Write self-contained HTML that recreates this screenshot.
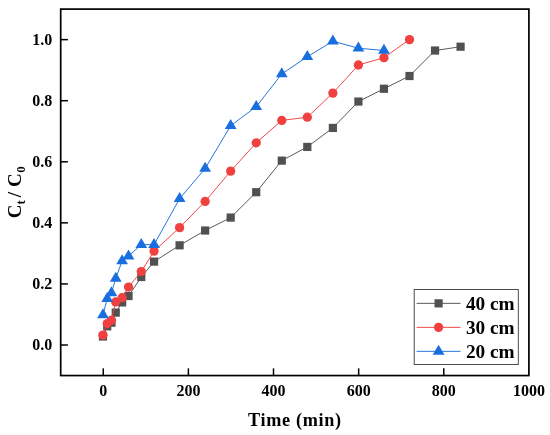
<!DOCTYPE html>
<html><head><meta charset="utf-8"><title>Breakthrough curves</title>
<style>
html,body{margin:0;padding:0;background:#fff;}
svg{display:block;}
text{font-family:"Liberation Serif",serif;font-weight:bold;fill:#000;}
.tk{font-size:16px;}
.ax{font-size:19px;}
.sub{font-size:13px;}
.lg{font-size:19.3px;}
</style></head><body>
<svg width="550" height="435" viewBox="0 0 550 435">
<rect width="550" height="435" fill="#fff"/>
<polyline points="102.97,336.52 107.23,326.32 111.49,322.67 115.74,312.62 122.13,302.41 128.52,296.02 141.29,276.98 154.06,261.60 179.60,245.30 205.15,230.53 230.69,217.58 256.23,192.21 281.78,160.63 307.32,146.92 332.87,127.92 358.41,101.54 383.95,88.75 409.50,76.01 435.04,50.52 460.58,46.71" fill="none" stroke="#515151" stroke-width="0.95"/>
<rect x="98.87" y="332.42" width="8.2" height="8.2" fill="#515151"/>
<rect x="103.13" y="322.22" width="8.2" height="8.2" fill="#515151"/>
<rect x="107.39" y="318.57" width="8.2" height="8.2" fill="#515151"/>
<rect x="111.64" y="308.51" width="8.2" height="8.2" fill="#515151"/>
<rect x="118.03" y="298.31" width="8.2" height="8.2" fill="#515151"/>
<rect x="124.42" y="291.92" width="8.2" height="8.2" fill="#515151"/>
<rect x="137.19" y="272.88" width="8.2" height="8.2" fill="#515151"/>
<rect x="149.96" y="257.50" width="8.2" height="8.2" fill="#515151"/>
<rect x="175.50" y="241.20" width="8.2" height="8.2" fill="#515151"/>
<rect x="201.05" y="226.43" width="8.2" height="8.2" fill="#515151"/>
<rect x="226.59" y="213.48" width="8.2" height="8.2" fill="#515151"/>
<rect x="252.13" y="188.11" width="8.2" height="8.2" fill="#515151"/>
<rect x="277.68" y="156.53" width="8.2" height="8.2" fill="#515151"/>
<rect x="303.22" y="142.82" width="8.2" height="8.2" fill="#515151"/>
<rect x="328.77" y="123.82" width="8.2" height="8.2" fill="#515151"/>
<rect x="354.31" y="97.44" width="8.2" height="8.2" fill="#515151"/>
<rect x="379.85" y="84.65" width="8.2" height="8.2" fill="#515151"/>
<rect x="405.40" y="71.91" width="8.2" height="8.2" fill="#515151"/>
<rect x="430.94" y="46.42" width="8.2" height="8.2" fill="#515151"/>
<rect x="456.48" y="42.61" width="8.2" height="8.2" fill="#515151"/>
<polyline points="102.97,335.15 107.23,323.58 111.49,320.23 115.74,301.95 122.13,297.69 128.52,287.03 141.29,271.56 154.06,251.09 179.60,227.64 205.15,201.44 230.69,171.11 256.23,142.81 281.78,120.42 307.32,117.22 332.87,93.10 358.41,64.99 383.95,57.68 409.50,39.59" fill="none" stroke="#F14040" stroke-width="0.95"/>
<circle cx="102.97" cy="335.15" r="4.65" fill="#F14040"/>
<circle cx="107.23" cy="323.58" r="4.65" fill="#F14040"/>
<circle cx="111.49" cy="320.23" r="4.65" fill="#F14040"/>
<circle cx="115.74" cy="301.95" r="4.65" fill="#F14040"/>
<circle cx="122.13" cy="297.69" r="4.65" fill="#F14040"/>
<circle cx="128.52" cy="287.03" r="4.65" fill="#F14040"/>
<circle cx="141.29" cy="271.56" r="4.65" fill="#F14040"/>
<circle cx="154.06" cy="251.09" r="4.65" fill="#F14040"/>
<circle cx="179.60" cy="227.64" r="4.65" fill="#F14040"/>
<circle cx="205.15" cy="201.44" r="4.65" fill="#F14040"/>
<circle cx="230.69" cy="171.11" r="4.65" fill="#F14040"/>
<circle cx="256.23" cy="142.81" r="4.65" fill="#F14040"/>
<circle cx="281.78" cy="120.42" r="4.65" fill="#F14040"/>
<circle cx="307.32" cy="117.22" r="4.65" fill="#F14040"/>
<circle cx="332.87" cy="93.10" r="4.65" fill="#F14040"/>
<circle cx="358.41" cy="64.99" r="4.65" fill="#F14040"/>
<circle cx="383.95" cy="57.68" r="4.65" fill="#F14040"/>
<circle cx="409.50" cy="39.59" r="4.65" fill="#F14040"/>
<polyline points="102.97,315.03 107.23,298.59 111.49,292.80 115.74,278.48 122.13,260.82 128.52,256.10 141.29,244.67 154.06,244.67 179.60,198.68 205.15,168.53 230.69,125.70 256.23,106.70 281.78,73.99 307.32,56.75 332.87,41.21 358.41,48.22 383.95,50.47" fill="none" stroke="#1A6FDF" stroke-width="0.95"/>
<polygon points="102.97,308.36 108.87,318.36 97.07,318.36" fill="#1A6FDF"/>
<polygon points="107.23,291.92 113.13,301.92 101.33,301.92" fill="#1A6FDF"/>
<polygon points="111.49,286.13 117.39,296.13 105.59,296.13" fill="#1A6FDF"/>
<polygon points="115.74,271.81 121.64,281.81 109.84,281.81" fill="#1A6FDF"/>
<polygon points="122.13,254.15 128.03,264.15 116.23,264.15" fill="#1A6FDF"/>
<polygon points="128.52,249.43 134.42,259.43 122.62,259.43" fill="#1A6FDF"/>
<polygon points="141.29,238.00 147.19,248.00 135.39,248.00" fill="#1A6FDF"/>
<polygon points="154.06,238.00 159.96,248.00 148.16,248.00" fill="#1A6FDF"/>
<polygon points="179.60,192.01 185.50,202.01 173.70,202.01" fill="#1A6FDF"/>
<polygon points="205.15,161.86 211.05,171.86 199.25,171.86" fill="#1A6FDF"/>
<polygon points="230.69,119.03 236.59,129.03 224.79,129.03" fill="#1A6FDF"/>
<polygon points="256.23,100.03 262.13,110.03 250.33,110.03" fill="#1A6FDF"/>
<polygon points="281.78,67.32 287.68,77.32 275.88,77.32" fill="#1A6FDF"/>
<polygon points="307.32,50.08 313.22,60.08 301.42,60.08" fill="#1A6FDF"/>
<polygon points="332.87,34.54 338.77,44.54 326.97,44.54" fill="#1A6FDF"/>
<polygon points="358.41,41.55 364.31,51.55 352.51,51.55" fill="#1A6FDF"/>
<polygon points="383.95,43.80 389.85,53.80 378.05,53.80" fill="#1A6FDF"/>
<rect x="60.7" y="9.1" width="468.2" height="366.45" fill="none" stroke="#000" stroke-width="1.7"/>
<line x1="60.7" y1="345.01" x2="67.9" y2="345.01" stroke="#000" stroke-width="1.5"/>
<text x="52.2" y="349.91" text-anchor="end" class="tk">0.0</text>
<line x1="60.7" y1="283.94" x2="67.9" y2="283.94" stroke="#000" stroke-width="1.5"/>
<text x="52.2" y="288.84" text-anchor="end" class="tk">0.2</text>
<line x1="60.7" y1="222.86" x2="67.9" y2="222.86" stroke="#000" stroke-width="1.5"/>
<text x="52.2" y="227.76" text-anchor="end" class="tk">0.4</text>
<line x1="60.7" y1="161.79" x2="67.9" y2="161.79" stroke="#000" stroke-width="1.5"/>
<text x="52.2" y="166.69" text-anchor="end" class="tk">0.6</text>
<line x1="60.7" y1="100.71" x2="67.9" y2="100.71" stroke="#000" stroke-width="1.5"/>
<text x="52.2" y="105.61" text-anchor="end" class="tk">0.8</text>
<line x1="60.7" y1="39.64" x2="67.9" y2="39.64" stroke="#000" stroke-width="1.5"/>
<text x="52.2" y="44.54" text-anchor="end" class="tk">1.0</text>
<line x1="103.26" y1="375.55" x2="103.26" y2="368.35" stroke="#000" stroke-width="1.5"/>
<line x1="188.39" y1="375.55" x2="188.39" y2="368.35" stroke="#000" stroke-width="1.5"/>
<line x1="273.52" y1="375.55" x2="273.52" y2="368.35" stroke="#000" stroke-width="1.5"/>
<line x1="358.65" y1="375.55" x2="358.65" y2="368.35" stroke="#000" stroke-width="1.5"/>
<line x1="443.77" y1="375.55" x2="443.77" y2="368.35" stroke="#000" stroke-width="1.5"/>
<text x="103.26" y="395.6" text-anchor="middle" class="tk">0</text>
<text x="188.39" y="395.6" text-anchor="middle" class="tk">200</text>
<text x="273.52" y="395.6" text-anchor="middle" class="tk">400</text>
<text x="358.65" y="395.6" text-anchor="middle" class="tk">600</text>
<text x="443.77" y="395.6" text-anchor="middle" class="tk">800</text>
<text x="528.90" y="395.6" text-anchor="middle" class="tk">1000</text>
<text x="248.0" y="425.6" class="ax" style="font-size:18.2px;letter-spacing:0.68px">Time (min)</text>
<text transform="translate(20.5,192.2) rotate(-90)" text-anchor="middle" class="ax">C<tspan class="sub" dy="4.5">t</tspan><tspan dy="-4.5" dx="-1.8"> / C</tspan><tspan class="sub" dy="4.5" dx="0.7">0</tspan></text>
<rect x="414.2" y="289.5" width="104.1" height="75" fill="#fff" stroke="#3a3a3a" stroke-width="0.9"/>
<line x1="416.6" y1="303.35" x2="460.5" y2="303.35" stroke="#515151" stroke-width="0.95"/>
<rect x="434.50" y="299.25" width="8.2" height="8.2" fill="#515151"/>
<text x="465.9" y="309.85" class="lg">40 cm</text>
<line x1="416.6" y1="327.35" x2="460.5" y2="327.35" stroke="#F14040" stroke-width="0.95"/>
<circle cx="438.60" cy="327.35" r="4.65" fill="#F14040"/>
<text x="465.9" y="333.85" class="lg">30 cm</text>
<line x1="416.6" y1="351.35" x2="460.5" y2="351.35" stroke="#1A6FDF" stroke-width="0.95"/>
<polygon points="438.60,344.68 444.50,354.68 432.70,354.68" fill="#1A6FDF"/>
<text x="465.9" y="357.85" class="lg">20 cm</text>
</svg>
</body></html>
